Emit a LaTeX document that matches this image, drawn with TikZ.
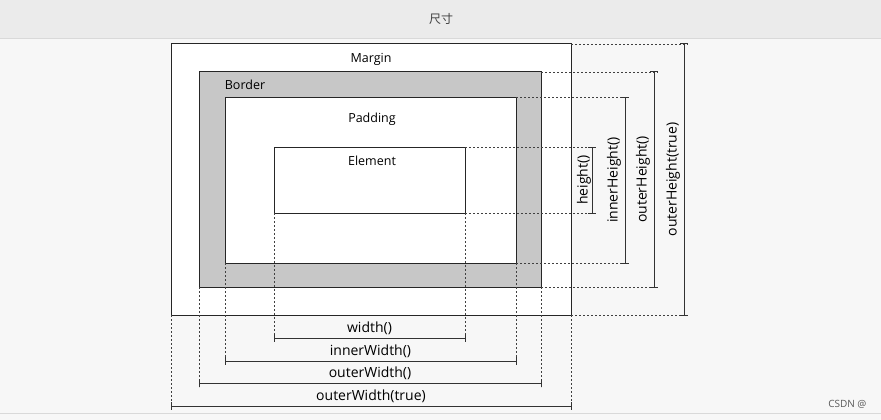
\documentclass[tikz,border=0pt]{standalone}
\usepackage{fontspec}
\setmainfont{Open Sans}
\newfontfamily\cjk{Noto Sans CJK SC}
\begin{document}
\begin{tikzpicture}[x=1pt,y=-1pt,
  box/.style={draw=black!85,line width=1pt},
  dim/.style={draw=black!80,line width=1pt},
  dot/.style={draw=black!75,dashed,dash pattern=on 2pt off 2pt,line width=0.8pt},
  lab/.style={font=\fontsize{12.5}{14}\selectfont,inner sep=1pt},
  dlab/.style={font=\fontsize{14}{16}\selectfont,inner sep=1pt},
  tick/.style={draw=black!80,line width=1pt}]
\useasboundingbox (0,0) rectangle (881,420);
\fill[white!97!black] (0,0) rectangle (881,420);
\fill[black!8] (0,0) rectangle (881,38);
\draw[black!15] (0,38) -- (881,38);
\draw[black!15] (0,413) -- (881,413);
\node[font=\cjk\fontsize{12}{14}\selectfont,text=black!75] (title) at (441,19) {尺寸};
% boxes
\fill[white] (171,44) rectangle (571,315);
\draw[box] (171,44) rectangle (571,315);
\draw[box,fill=black!22] (199,72) rectangle (541,287);
\draw[box,fill=white] (225,97) rectangle (516,263);
\draw[box] (274,147) rectangle (465,213);
\node[lab] (m) at (371,59) {Margin};
\node[lab] (b) at (245,85) {Border};
\node[lab] (p) at (372,119) {Padding};
\node[lab] (e) at (372,161) {Element};
% right dims
\foreach \x/\t/\b/\s/\l/\lx in {592/147/213/465/height()/584, 625/97/263/516/innerHeight()/614, 654/72/287/541/outerHeight()/643, 684/44/315/571/outerHeight(true)/673}{
  \draw[dot] (\s,\t) -- (\x+4,\t);
  \draw[dot] (\s,\b) -- (\x+4,\b);
  \draw[dim] (\x,\t) -- (\x,\b);
  \draw[tick] (\x-4,\t) -- (\x+4,\t);
  \draw[tick] (\x-4,\b) -- (\x+4,\b);
  \node[dlab,rotate=90] at (\lx,{(\t+\b)/2}) {\l};
}
% bottom dims
\foreach \y/\l/\r/\s/\t in {338/274/465/213/width(), 361/225/516/263/innerWidth(), 383/199/541/287/outerWidth(), 406/171/571/315/outerWidth(true)}{
  \draw[dot] (\l,\s) -- (\l,\y+4);
  \draw[dot] (\r,\s) -- (\r,\y+4);
  \draw[dim] (\l,\y) -- (\r,\y);
  \draw[tick] (\l,\y-4) -- (\l,\y+4);
  \draw[tick] (\r,\y-4) -- (\r,\y+4);
  \node[dlab] at ({(\l+\r)/2},\y-10) {\t};
}
\node[font=\fontsize{10}{11}\selectfont,text=black!65,anchor=east] (csdn) at (870,404) {CSDN @};
\end{tikzpicture}
\end{document}
